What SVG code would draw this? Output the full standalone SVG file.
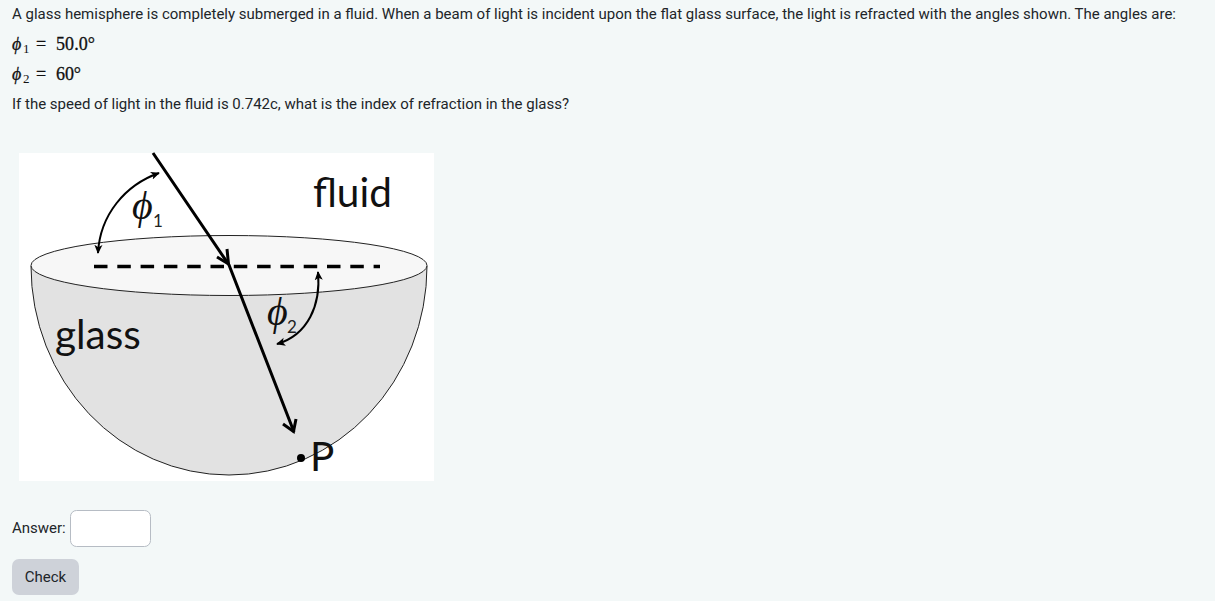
<svg xmlns="http://www.w3.org/2000/svg" width="1215" height="601" viewBox="0 0 1215 601">
<style>
.t{font-family:Roboto,"Liberation Sans",sans-serif;font-size:15px;fill:#212529}
.m{font-family:"Liberation Serif","DejaVu Serif",serif;font-size:18px;fill:#111;stroke:#111;stroke-width:.3}
.sub{font-family:"Liberation Serif","DejaVu Serif",serif;font-size:13px;fill:#111}
.d{font-family:Lato,"Open Sans",sans-serif;font-size:40.500px;fill:#111}
.p{font-family:"Liberation Serif",serif;font-style:italic;font-size:40px;fill:#111}
.s{font-family:Lato,"Open Sans",sans-serif;font-size:17px;fill:#222}
.ln{fill:none;stroke:#000;stroke-linecap:butt}
</style>
<defs>
<marker id="small" viewBox="0 0 10 10" refX="9" refY="5" markerWidth="9" markerHeight="9" markerUnits="userSpaceOnUse" orient="auto-start-reverse"><path d="M0 0.500L10 5L0 9.500L2.500 5Z" fill="#000"/></marker>
</defs>
<rect width="1215" height="601" fill="#f3f8f8"/>
<text class="t" x="12" y="19" textLength="1164" lengthAdjust="spacingAndGlyphs">A glass hemisphere is completely submerged in a fluid. When a beam of light is incident upon the flat glass surface, the light is refracted with the angles shown. The angles are:</text>
<g id="eq1"><text class="m" x="12" y="50" font-style="italic">ϕ</text><text class="sub" x="23" y="53">1</text><text class="m" x="36" y="50">=</text><text class="m" x="56" y="50" textLength="39">50.0°</text></g>
<g id="eq2"><text class="m" x="12" y="80" font-style="italic">ϕ</text><text class="sub" x="23" y="83">2</text><text class="m" x="36" y="80">=</text><text class="m" x="56" y="80" textLength="25">60°</text></g>
<text class="t" x="12" y="109" textLength="557" lengthAdjust="spacingAndGlyphs">If the speed of light in the fluid is 0.742c, what is the index of refraction in the glass?</text>
<rect x="19" y="153" width="415" height="328" fill="#fff"/>
<g id="hemisphere">
<path d="M31 266A198 209 0 0 0 427 266Z" fill="#e2e2e2" stroke="#222" stroke-width="1"/>
<ellipse cx="229" cy="265.500" rx="198" ry="30" fill="#f7f7f7" stroke="#222" stroke-width="1"/>
</g>
<g id="connectors">
<path class="ln" d="M94 266.500H380" stroke-width="3.500" stroke-dasharray="13.500 9.800"/>
<path class="ln" d="M153 153L229 265L294 432" stroke-width="3"/>
<path class="ln" d="M217 257L228.500 264L227 249" stroke-width="3"/>
<path class="ln" d="M283 424L293.500 431.500L296 419" stroke-width="3"/>
<path class="ln" d="M98 253C100 215 125 185 159 173" stroke-width="2" marker-start="url(#small)" marker-end="url(#small)"/>
<path class="ln" d="M318 272C321 305 308 335 277 344" stroke-width="2" marker-start="url(#small)" marker-end="url(#small)"/>
</g>
<circle id="point-dot" cx="301" cy="458" r="4" fill="#000"/>
<g id="label-phi1"><text class="p" x="132" y="219">ϕ</text><text class="s" x="153" y="227">1</text></g>
<g id="label-phi2"><text class="p" x="267" y="325">ϕ</text><text class="s" x="287" y="333">2</text></g>
<text id="label-fluid" class="d" x="313" y="207">fluid</text>
<text id="label-glass" class="d" x="55" y="349">glass</text>
<text id="label-P" class="d" x="310" y="471">P</text>
<text class="t" x="12" y="533">Answer:</text>
<rect id="answer" x="70.500" y="510.500" width="80" height="36" rx="6" fill="#fff" stroke="#b6bcc4"/>
<g id="check"><rect x="12" y="559" width="67" height="36" rx="7" fill="#ced2d9"/><text class="t" x="45.500" y="582" text-anchor="middle">Check</text></g>
</svg>
